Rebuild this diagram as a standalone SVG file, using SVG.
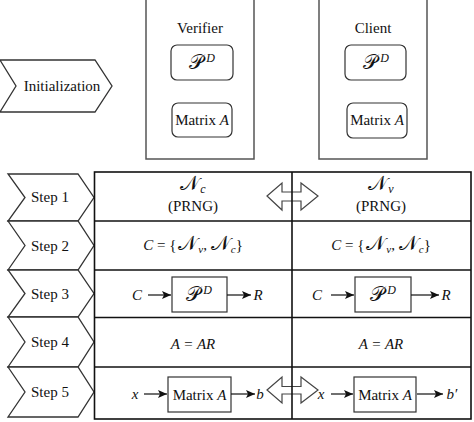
<svg xmlns="http://www.w3.org/2000/svg" width="474" height="422" viewBox="0 0 474 422">
<style>
text{font-family:"Liberation Serif","DejaVu Serif",serif;font-size:15px;fill:#111;text-anchor:middle}
.it{font-style:italic}
.cal{font-family:"DejaVu Serif","Liberation Serif",serif;font-size:20px;font-weight:normal}
.sup{font-style:italic;font-size:12px}
.chev{fill:#fff;stroke:#333;stroke-width:1.3}
.party{fill:#fff;stroke:#555;stroke-width:1.5}
.rbox{fill:#fff;stroke:#333;stroke-width:1.2}
.box{fill:#fff;stroke:#333;stroke-width:1.2}
.tbl{fill:none;stroke:#111;stroke-width:1.6}
.arr{stroke:#111;stroke-width:1.2;fill:none;marker-end:url(#ah)}
.dbl{fill:#fff;stroke:#444;stroke-width:1.2}
</style>
<defs>
<marker id="ah" markerUnits="userSpaceOnUse" markerWidth="10" markerHeight="8" refX="9" refY="4" orient="auto">
<path d="M0,0 L9,4 L0,8 L2,4 Z" fill="#111"/>
</marker>
</defs>
<rect width="474" height="422" fill="#fff"/>

<g id="init">
<polygon class="chev" points="0,60 95,60 112,86 95,112 0,112 16,86"/>
<text x="62" y="91">Initialization</text>
</g>

<g id="verifier">
<rect class="party" x="146" y="-2" width="108" height="161"/>
<text x="200" y="33">Verifier</text>
<g id="verifier-pd">
<rect class="rbox" x="171" y="45" width="62" height="35" rx="6"/>
<text x="202" y="69"><tspan class="cal">𝒫</tspan><tspan class="sup" dx="3" dy="-7">D</tspan></text>
</g>
<g id="verifier-matrix">
<rect class="rbox" x="172" y="103" width="60" height="34" rx="6"/>
<text x="202" y="125">Matrix <tspan class="it">A</tspan></text>
</g>
</g>

<g id="client">
<rect class="party" x="319" y="-2" width="108" height="161"/>
<text x="373" y="33">Client</text>
<g id="client-pd">
<rect class="rbox" x="345" y="45" width="61" height="35" rx="6"/>
<text x="376" y="69"><tspan class="cal">𝒫</tspan><tspan class="sup" dx="3" dy="-7">D</tspan></text>
</g>
<g id="client-matrix">
<rect class="rbox" x="347" y="103" width="60" height="35" rx="6"/>
<text x="377" y="125">Matrix <tspan class="it">A</tspan></text>
</g>
</g>

<g id="steps">
<g id="step1"><polygon class="chev" points="8,174 78,174 94,197.5 78,221 8,221 25,197.5"/><text x="50" y="202">Step 1</text></g>
<g id="step2"><polygon class="chev" points="8,221 78,221 94,245.5 78,270 8,270 25,245.5"/><text x="50" y="251">Step 2</text></g>
<g id="step3"><polygon class="chev" points="8,270 78,270 94,293.5 78,317 8,317 25,293.5"/><text x="50" y="299">Step 3</text></g>
<g id="step4"><polygon class="chev" points="8,317 78,317 94,342 78,367 8,367 25,342"/><text x="50" y="347">Step 4</text></g>
<g id="step5"><polygon class="chev" points="8,367 78,367 94,392 78,417 8,417 25,392"/><text x="50" y="397">Step 5</text></g>
</g>

<g id="table">
<rect class="tbl" x="94.5" y="172" width="376.5" height="247" stroke="#222"/>
<line class="tbl" x1="94.5" y1="221" x2="471" y2="221"/>
<line class="tbl" x1="94.5" y1="270" x2="471" y2="270"/>
<line class="tbl" x1="94.5" y1="317.5" x2="471" y2="317.5"/>
<line class="tbl" x1="94.5" y1="367" x2="471" y2="367"/>
</g>

<g id="row1">
<text x="193" y="190"><tspan class="cal">𝒩</tspan><tspan class="it" font-size="12" dx="1" dy="3">c</tspan></text>
<text x="193" y="211">(PRNG)</text>
<text x="381" y="190"><tspan class="cal">𝒩</tspan><tspan class="it" font-size="12" dx="1" dy="3">v</tspan></text>
<text x="381" y="211">(PRNG)</text>
</g>

<g id="row2">
<text x="193" y="250"><tspan class="it">C</tspan> = {<tspan class="cal" font-size="16" dx="2">𝒩</tspan><tspan class="it" font-size="11" dx="1" dy="3">v</tspan><tspan dy="-3">, </tspan><tspan class="cal" font-size="16">𝒩</tspan><tspan class="it" font-size="11" dx="1" dy="3">c</tspan><tspan dy="-3">}</tspan></text>
<text x="381" y="250"><tspan class="it">C</tspan> = {<tspan class="cal" font-size="16" dx="2">𝒩</tspan><tspan class="it" font-size="11" dx="1" dy="3">v</tspan><tspan dy="-3">, </tspan><tspan class="cal" font-size="16">𝒩</tspan><tspan class="it" font-size="11" dx="1" dy="3">c</tspan><tspan dy="-3">}</tspan></text>
</g>

<g id="row3">
<text class="it" x="137" y="300">C</text>
<g id="pd-left"><rect class="box" x="172" y="277" width="55" height="35"/>
<text x="199" y="301"><tspan class="cal">𝒫</tspan><tspan class="sup" dx="3" dy="-7">D</tspan></text></g>
<text class="it" x="258" y="300">R</text>
<text class="it" x="317" y="300">C</text>
<g id="pd-right"><rect class="box" x="355" y="277" width="56" height="35"/>
<text x="383" y="301"><tspan class="cal">𝒫</tspan><tspan class="sup" dx="3" dy="-7">D</tspan></text></g>
<text class="it" x="446" y="300">R</text>
</g>

<g id="row4">
<text class="it" x="193" y="349">A = AR</text>
<text class="it" x="381" y="349">A = AR</text>
</g>

<g id="row5">
<text class="it" x="135" y="399">x</text>
<g id="mat-left"><rect class="box" x="168" y="377" width="63" height="35"/>
<text x="199.5" y="400">Matrix <tspan class="it">A</tspan></text></g>
<text class="it" x="260" y="399">b</text>
<text class="it" x="321" y="399">x</text>
<g id="mat-right"><rect class="box" x="354" y="377" width="62" height="35"/>
<text x="385" y="400">Matrix <tspan class="it">A</tspan></text></g>
<text class="it" x="452" y="399">b′</text>
</g>

<g id="connectors">
<line class="arr" x1="148" y1="295" x2="171" y2="295"/>
<line class="arr" x1="227" y1="295" x2="251" y2="295"/>
<line class="arr" x1="331" y1="295" x2="354" y2="295"/>
<line class="arr" x1="411" y1="295" x2="439" y2="295"/>
<line class="arr" x1="144" y1="394" x2="167" y2="394"/>
<line class="arr" x1="231" y1="394" x2="255" y2="394"/>
<line class="arr" x1="331" y1="394" x2="353" y2="394"/>
<line class="arr" x1="417" y1="394" x2="443" y2="394"/>
<path class="dbl" d="M267,196 L282,183 L282,192 L301,192 L301,183 L318,196 L301,210 L301,201 L282,201 L282,210 Z"/>
<path class="dbl" d="M267,390 L282,377 L282,386.5 L301,386.5 L301,377 L318,390 L301,403 L301,394 L282,394 L282,403 Z"/>
<line class="tbl" x1="292" y1="172" x2="292" y2="419"/>
</g>
</svg>
